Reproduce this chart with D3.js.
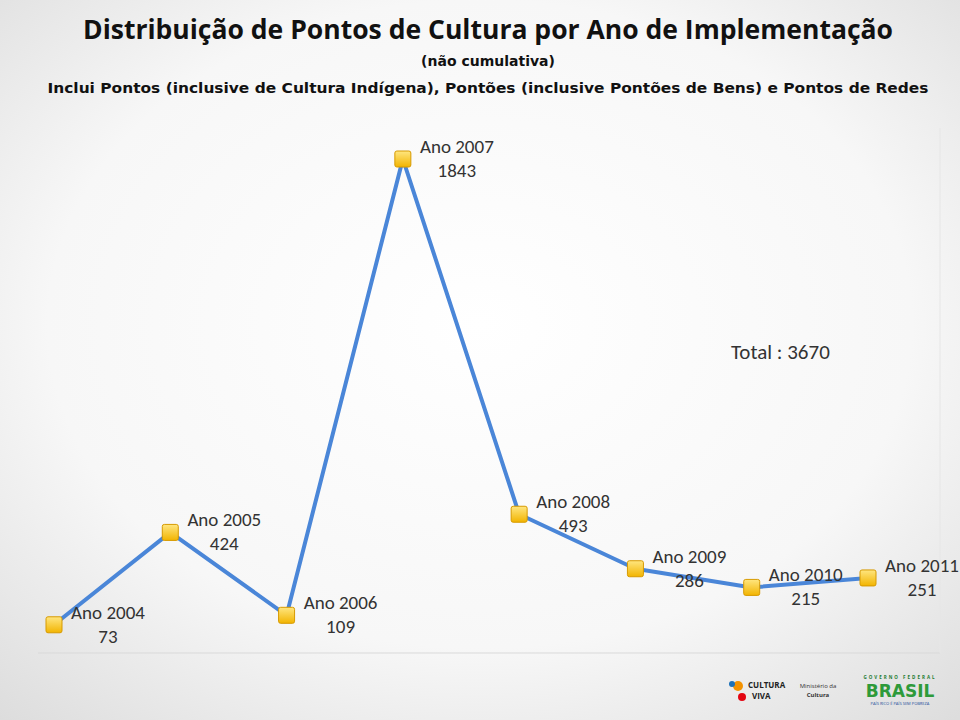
<!DOCTYPE html>
<html><head><meta charset="utf-8">
<script src="https://cdn.jsdelivr.net/npm/d3@7"></script>
<style>
body{margin:0;}
svg{display:block;font-family:"Open Sans",sans-serif;}
</style></head>
<body><div id="chart"></div>
<script>
// Anos e valores (não cumulativa)
const years = ["2004","2005","2006","2007","2008","2009","2010","2011"];
const values = [73, 424, 109, 1843, 493, 286, 215, 251];
const totalLabel = "Total : 3670";

const W = 960, H = 720;
const svg = d3.select("#chart").append("svg").attr("width", W).attr("height", H);
const defs = svg.append("defs");
const bg = defs.append("radialGradient").attr("id", "bg").attr("cx", "50%").attr("cy", "45%").attr("r", "75%");
bg.append("stop").attr("offset", "0%").attr("stop-color", "#ffffff");
bg.append("stop").attr("offset", "60%").attr("stop-color", "#f7f7f7");
bg.append("stop").attr("offset", "100%").attr("stop-color", "#dcdcdc");
const mk = defs.append("linearGradient").attr("id", "mk").attr("x1", 0).attr("x2", 0).attr("y1", 0).attr("y2", 1);
mk.append("stop").attr("offset", "0%").attr("stop-color", "#ffe680");
mk.append("stop").attr("offset", "100%").attr("stop-color", "#f2b400");

svg.append("rect").attr("width", W).attr("height", H).attr("fill", "url(#bg)");

// Títulos
svg.append("text").attr("x", 488).attr("y", 39).attr("text-anchor", "middle")
  .attr("font-size", 26.5).attr("font-weight", "bold").attr("fill", "#111")
  .attr("textLength", 810).attr("lengthAdjust", "spacingAndGlyphs")
  .text("Distribuição de Pontos de Cultura por Ano de Implementação");
svg.append("text").attr("x", 488).attr("y", 66).attr("text-anchor", "middle")
  .attr("font-family", "'DejaVu Sans'").attr("font-size", 14).attr("font-weight", "bold").attr("fill", "#111")
  .text("(não cumulativa)");
svg.append("text").attr("x", 488).attr("y", 93).attr("text-anchor", "middle")
  .attr("font-family", "'DejaVu Sans'").attr("font-size", 14).attr("font-weight", "bold").attr("fill", "#111")
  .attr("textLength", 881).attr("lengthAdjust", "spacingAndGlyphs")
  .text("Inclui Pontos (inclusive de Cultura Indígena), Pontões (inclusive Pontões de Bens) e Pontos de Redes");

// Área do gráfico
svg.append("line").attr("x1", 38).attr("x2", 940).attr("y1", 653).attr("y2", 653).attr("stroke", "#d9d9d9");
svg.append("line").attr("x1", 940).attr("x2", 940).attr("y1", 128).attr("y2", 653).attr("stroke", "#e6e6e6");

const x = d3.scalePoint().domain(years).range([54, 868]);
const y = d3.scaleLinear().domain([0, 1843]).range([644, 159]);

svg.append("path").datum(values)
  .attr("d", d3.line().x((d, i) => x(years[i])).y(d => y(d)))
  .attr("fill", "none").attr("stroke", "#4a86d8").attr("stroke-width", 4).attr("stroke-linejoin", "round");

const pts = svg.append("g").selectAll("g").data(values).join("g")
  .attr("transform", (d, i) => `translate(${x(years[i])},${y(d)})`);
pts.append("rect").attr("x", -8).attr("y", -8).attr("width", 16).attr("height", 16).attr("rx", 2)
  .attr("fill", "url(#mk)").attr("stroke", "#d79a00").attr("stroke-width", 1);
pts.append("text").attr("x", 54).attr("y", -6).attr("text-anchor", "middle")
  .attr("font-family", "Carlito, Lato, sans-serif").attr("font-size", 19).attr("fill", "#333")
  .text((d, i) => "Ano " + years[i]);
pts.append("text").attr("x", 54).attr("y", 18).attr("text-anchor", "middle")
  .attr("font-family", "Carlito, Lato, sans-serif").attr("font-size", 19).attr("fill", "#333")
  .text(d => d);

svg.append("text").attr("x", 731).attr("y", 359)
  .attr("font-family", "Carlito, Lato, sans-serif").attr("font-size", 21).attr("fill", "#333")
  .text(totalLabel);

// Logos (aproximação)
const lg = svg.append("g");
lg.append("text").attr("x", 748).attr("y", 688).attr("font-size", 8).attr("font-weight", "bold").attr("fill", "#222").text("CULTURA");
lg.append("text").attr("x", 752).attr("y", 699).attr("font-size", 8).attr("font-weight", "bold").attr("fill", "#222").text("VIVA");
lg.append("circle").attr("cx", 738).attr("cy", 686).attr("r", 5).attr("fill", "#f39200");
lg.append("circle").attr("cx", 742).attr("cy", 697).attr("r", 4).attr("fill", "#e30613");
lg.append("circle").attr("cx", 732).attr("cy", 684).attr("r", 3).attr("fill", "#1d71b8");
lg.append("text").attr("x", 818).attr("y", 688).attr("text-anchor", "middle").attr("font-size", 6).attr("fill", "#333").text("Ministério da");
lg.append("text").attr("x", 818).attr("y", 697).attr("text-anchor", "middle").attr("font-size", 6).attr("font-weight", "bold").attr("fill", "#333").text("Cultura");
lg.append("text").attr("x", 900).attr("y", 679).attr("text-anchor", "middle").attr("font-size", 4.5).attr("font-weight", "bold").attr("fill", "#1a7a2e").attr("letter-spacing", 2).text("GOVERNO FEDERAL");
lg.append("text").attr("x", 900).attr("y", 697).attr("text-anchor", "middle").attr("font-size", 17).attr("font-weight", "900").attr("fill", "#2e9a3a").attr("font-family", "'DejaVu Sans'").text("BRASIL");
lg.append("text").attr("x", 900).attr("y", 705).attr("text-anchor", "middle").attr("font-size", 4).attr("fill", "#1d4f9c").text("PAÍS RICO É PAÍS SEM POBREZA");
</script></body></html>
